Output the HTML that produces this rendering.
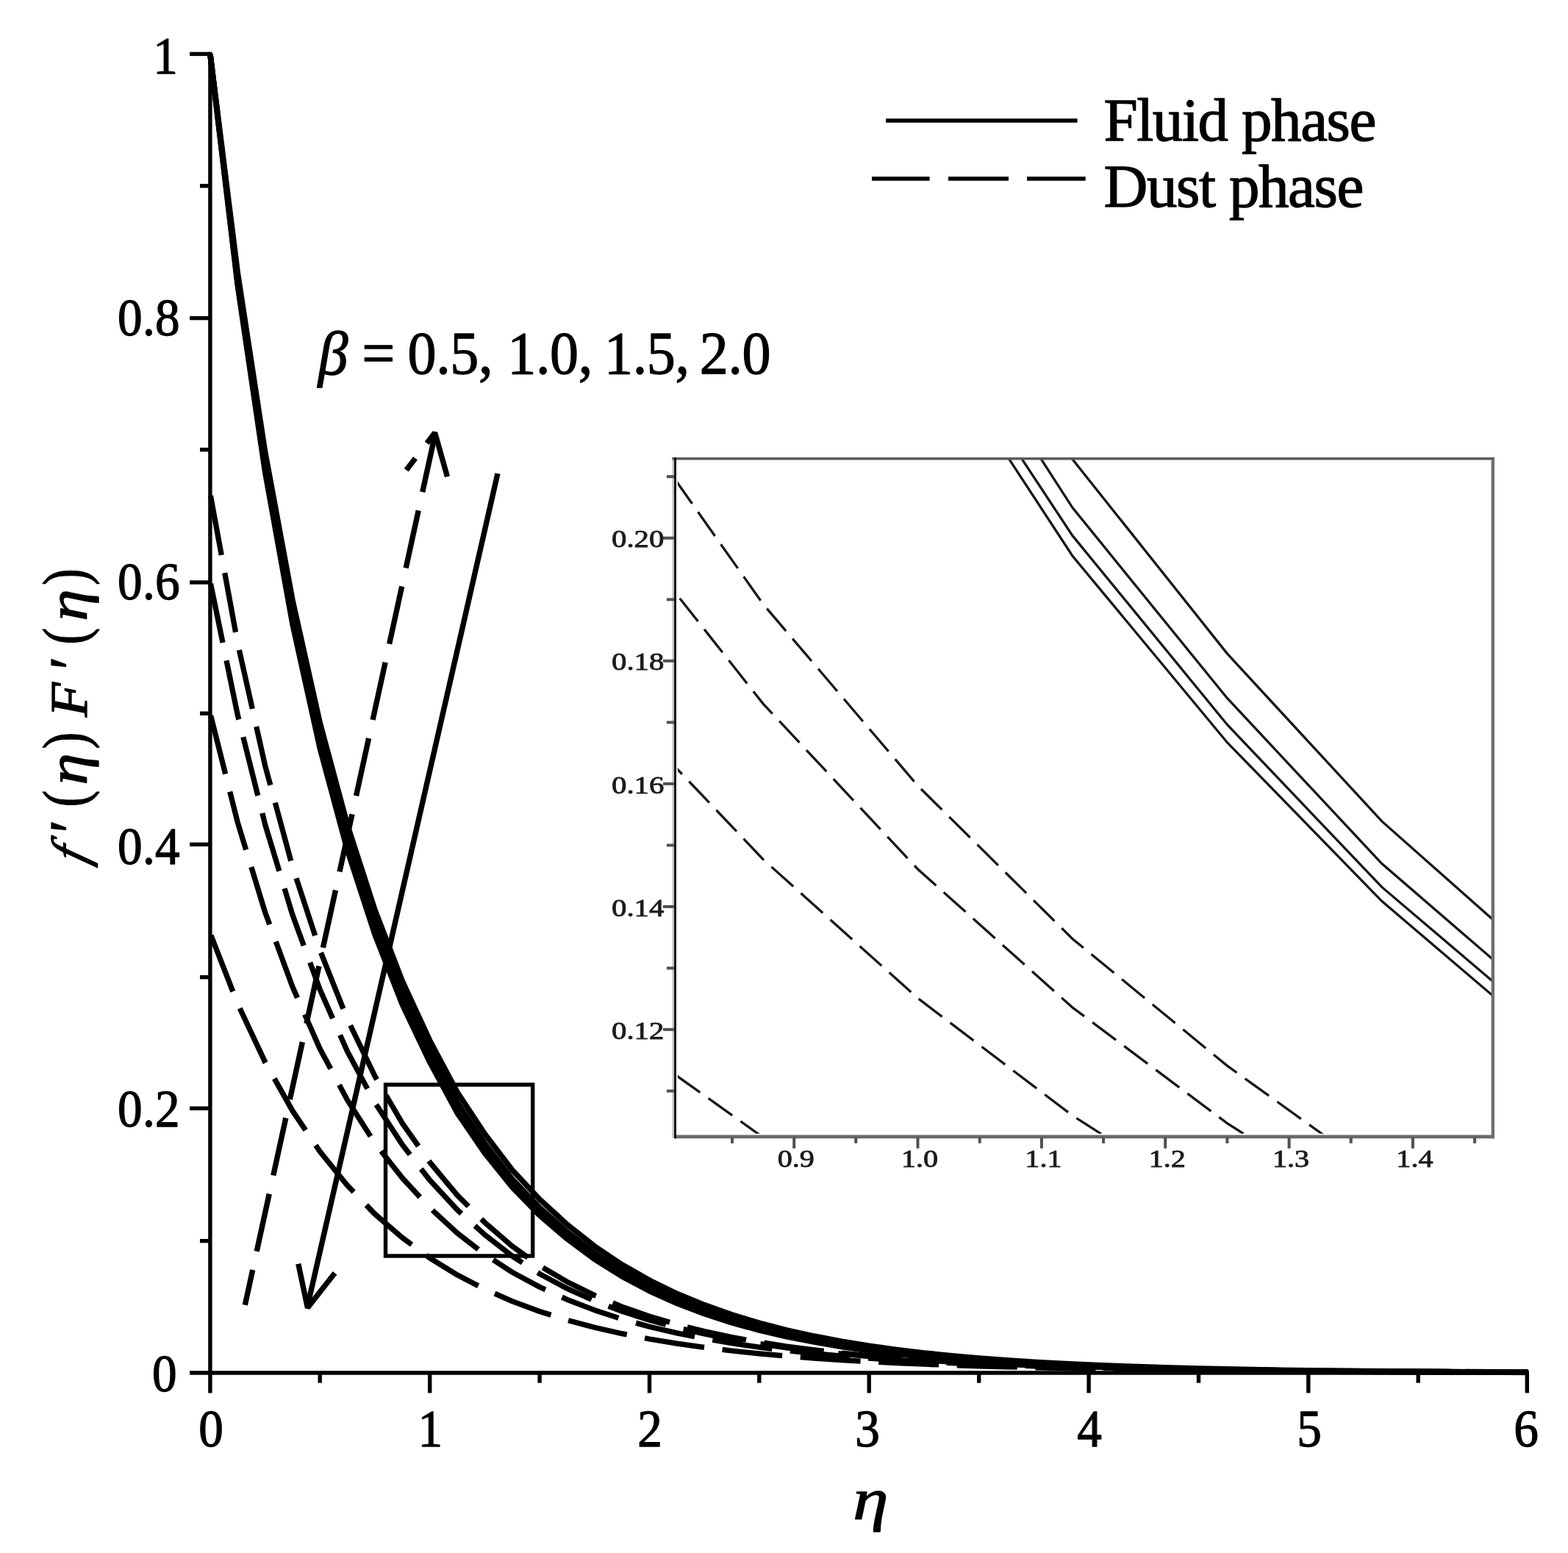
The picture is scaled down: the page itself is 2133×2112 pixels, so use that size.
<!DOCTYPE html>
<html lang="en"><head><meta charset="utf-8"><title>Velocity profiles of fluid and dust phase</title>
<style>html,body{margin:0;padding:0;background:#fff}svg{display:block}text{font-family:"Liberation Serif","DejaVu Serif",serif;fill:#000}</style>
</head><body>
<svg xmlns="http://www.w3.org/2000/svg" width="2133" height="2112" viewBox="0 0 2133 2112">
<rect width="2133" height="2112" fill="#fff"/>
<g fill="none" stroke="#000" stroke-width="7.6" stroke-linejoin="round">
<path d="M285.9,73.4 L323.2,387.7 L360.6,641.8 L397.9,848.4 L435.2,1017.4 L472.6,1156.3 L510.0,1271.0 L547.3,1366.1 L584.7,1444.5 L622.0,1513.5 L659.4,1568.0 L696.7,1614.3 L734.1,1652.8 L771.4,1684.8 L808.8,1712.5 L846.1,1735.9 L883.5,1755.7 L920.8,1772.5 L958.2,1786.7 L995.5,1798.8 L1032.8,1809.0 L1070.2,1817.7 L1107.6,1825.1 L1144.9,1831.4 L1182.2,1836.7 L1219.6,1841.3 L1257.0,1845.1 L1294.3,1848.4 L1331.7,1851.2 L1369.0,1853.6 L1406.3,1855.6 L1443.7,1857.3 L1481.1,1858.8 L1518.4,1860.0 L1555.8,1861.1 L1593.1,1861.9 L1630.5,1862.7 L1667.8,1863.4 L1705.2,1863.9 L1742.5,1864.4 L1779.8,1864.8 L1817.2,1865.1 L1854.6,1865.4 L1891.9,1865.6 L1929.2,1865.8 L1966.6,1866.0 L2004.0,1866.2 L2041.3,1866.3 L2078.7,1866.4"/>
<path d="M285.9,73.4 L323.2,384.3 L360.6,636.4 L397.9,842.0 L435.2,1010.6 L472.6,1149.5 L510.0,1264.5 L547.3,1359.9 L584.7,1439.1 L622.0,1507.6 L659.4,1562.8 L696.7,1610.2 L734.1,1648.5 L771.4,1681.0 L808.8,1709.1 L846.1,1732.8 L883.5,1753.0 L920.8,1770.0 L958.2,1784.5 L995.5,1796.8 L1032.8,1807.2 L1070.2,1816.1 L1107.6,1823.6 L1144.9,1830.1 L1182.2,1835.5 L1219.6,1840.2 L1257.0,1844.2 L1294.3,1847.6 L1331.7,1850.4 L1369.0,1852.9 L1406.3,1855.0 L1443.7,1856.8 L1481.1,1858.3 L1518.4,1859.6 L1555.8,1860.7 L1593.1,1861.6 L1630.5,1862.4 L1667.8,1863.1 L1705.2,1863.7 L1742.5,1864.2 L1779.8,1864.6 L1817.2,1865.0 L1854.6,1865.3 L1891.9,1865.5 L1929.2,1865.7 L1966.6,1865.9 L2004.0,1866.1 L2041.3,1866.2 L2078.7,1866.3"/>
<path d="M285.9,73.4 L323.2,379.1 L360.6,628.2 L397.9,832.3 L435.2,1000.4 L472.6,1139.3 L510.0,1254.5 L547.3,1350.5 L584.7,1429.3 L622.0,1499.4 L659.4,1555.0 L696.7,1603.4 L734.1,1642.3 L771.4,1675.3 L808.8,1703.9 L846.1,1728.1 L883.5,1748.7 L920.8,1766.1 L958.2,1780.9 L995.5,1793.6 L1032.8,1804.3 L1070.2,1813.5 L1107.6,1821.3 L1144.9,1828.0 L1182.2,1833.7 L1219.6,1838.5 L1257.0,1842.7 L1294.3,1846.2 L1331.7,1849.2 L1369.0,1851.8 L1406.3,1854.0 L1443.7,1855.9 L1481.1,1857.5 L1518.4,1858.9 L1555.8,1860.1 L1593.1,1861.1 L1630.5,1861.9 L1667.8,1862.7 L1705.2,1863.3 L1742.5,1863.8 L1779.8,1864.3 L1817.2,1864.7 L1854.6,1865.0 L1891.9,1865.3 L1929.2,1865.6 L1966.6,1865.8 L2004.0,1866.0 L2041.3,1866.1 L2078.7,1866.2"/>
<path d="M285.9,73.4 L323.2,370.3 L360.6,614.5 L397.9,816.0 L435.2,983.0 L472.6,1121.8 L510.0,1237.6 L547.3,1334.4 L584.7,1415.2 L622.0,1485.3 L659.4,1542.0 L696.7,1591.0 L734.1,1631.0 L771.4,1665.3 L808.8,1694.8 L846.1,1719.8 L883.5,1741.1 L920.8,1759.3 L958.2,1774.7 L995.5,1787.9 L1032.8,1799.2 L1070.2,1808.9 L1107.6,1817.1 L1144.9,1824.2 L1182.2,1830.3 L1219.6,1835.4 L1257.0,1839.9 L1294.3,1843.7 L1331.7,1847.0 L1369.0,1849.8 L1406.3,1852.2 L1443.7,1854.3 L1481.1,1856.1 L1518.4,1857.6 L1555.8,1858.9 L1593.1,1860.1 L1630.5,1861.0 L1667.8,1861.9 L1705.2,1862.6 L1742.5,1863.2 L1779.8,1863.7 L1817.2,1864.2 L1854.6,1864.6 L1891.9,1864.9 L1929.2,1865.2 L1966.6,1865.5 L2004.0,1865.7 L2041.3,1865.9 L2078.7,1866.0"/>
</g>
<g fill="none" stroke="#000" stroke-width="7.3" stroke-dasharray="82 24.7" stroke-dashoffset="-3" stroke-linejoin="round">
<path d="M285.9,671.2 L323.2,874.2 L360.6,1041.1 L397.9,1178.7 L435.2,1292.2 L472.6,1386.1 L510.0,1463.6 L547.3,1527.6 L584.7,1580.6 L622.0,1625.3 L659.4,1662.4 L696.7,1694.8 L734.1,1721.3 L771.4,1743.2 L808.8,1761.6 L846.1,1777.1 L883.5,1790.2 L920.8,1801.2 L958.2,1810.6 L995.5,1818.5 L1032.8,1825.2 L1070.2,1831.0 L1107.6,1835.8 L1144.9,1840.0 L1182.2,1843.6 L1219.6,1846.6 L1257.0,1849.3 L1294.3,1851.5 L1331.7,1853.4 L1369.0,1855.1 L1406.3,1856.6 L1443.7,1857.8 L1481.1,1858.9 L1518.4,1859.9 L1555.8,1860.7 L1593.1,1861.4 L1630.5,1862.1 L1667.8,1862.7 L1705.2,1863.2 L1742.5,1863.6 L1779.8,1864.0 L1817.2,1864.4 L1854.6,1864.7 L1891.9,1865.0 L1929.2,1865.2 L1966.6,1865.4 L2004.0,1865.6 L2041.3,1865.8 L2078.7,1865.9"/>
<path d="M285.9,790.8 L323.2,972.0 L360.6,1121.1 L397.9,1244.1 L435.2,1345.8 L472.6,1430.1 L510.0,1499.5 L547.3,1556.7 L584.7,1605.0 L622.0,1645.3 L659.4,1679.1 L696.7,1708.1 L734.1,1732.4 L771.4,1752.3 L808.8,1769.1 L846.1,1783.3 L883.5,1795.2 L920.8,1805.4 L958.2,1814.0 L995.5,1821.3 L1032.8,1827.5 L1070.2,1832.8 L1107.6,1837.3 L1144.9,1841.2 L1182.2,1844.5 L1219.6,1847.4 L1257.0,1849.9 L1294.3,1852.0 L1331.7,1853.8 L1369.0,1855.4 L1406.3,1856.8 L1443.7,1858.0 L1481.1,1859.0 L1518.4,1859.9 L1555.8,1860.7 L1593.1,1861.4 L1630.5,1862.1 L1667.8,1862.6 L1705.2,1863.1 L1742.5,1863.6 L1779.8,1864.0 L1817.2,1864.3 L1854.6,1864.6 L1891.9,1864.9 L1929.2,1865.1 L1966.6,1865.3 L2004.0,1865.5 L2041.3,1865.7 L2078.7,1865.8"/>
<path d="M285.9,970.2 L323.2,1118.2 L360.6,1240.6 L397.9,1342.0 L435.2,1426.2 L472.6,1496.1 L510.0,1554.6 L547.3,1602.1 L584.7,1642.6 L622.0,1676.9 L659.4,1705.8 L696.7,1730.1 L734.1,1750.3 L771.4,1767.3 L808.8,1781.7 L846.1,1793.9 L883.5,1804.2 L920.8,1812.9 L958.2,1820.4 L995.5,1826.7 L1032.8,1832.1 L1070.2,1836.7 L1107.6,1840.7 L1144.9,1844.1 L1182.2,1847.0 L1219.6,1849.5 L1257.0,1851.7 L1294.3,1853.6 L1331.7,1855.2 L1369.0,1856.6 L1406.3,1857.8 L1443.7,1858.9 L1481.1,1859.8 L1518.4,1860.6 L1555.8,1861.4 L1593.1,1862.0 L1630.5,1862.6 L1667.8,1863.1 L1705.2,1863.5 L1742.5,1863.9 L1779.8,1864.3 L1817.2,1864.6 L1854.6,1864.9 L1891.9,1865.1 L1929.2,1865.3 L1966.6,1865.5 L2004.0,1865.7 L2041.3,1865.8 L2078.7,1866.0"/>
<path d="M285.9,1269.2 L323.2,1364.8 L360.6,1444.4 L397.9,1510.6 L435.2,1566.0 L472.6,1612.2 L510.0,1651.1 L547.3,1683.3 L584.7,1710.8 L622.0,1733.8 L659.4,1753.2 L696.7,1769.6 L734.1,1783.5 L771.4,1795.2 L808.8,1805.2 L846.1,1813.7 L883.5,1821.0 L920.8,1827.2 L958.2,1832.4 L995.5,1837.0 L1032.8,1840.9 L1070.2,1844.2 L1107.6,1847.1 L1144.9,1849.6 L1182.2,1851.7 L1219.6,1853.6 L1257.0,1855.2 L1294.3,1856.6 L1331.7,1857.8 L1369.0,1858.8 L1406.3,1859.8 L1443.7,1860.6 L1481.1,1861.3 L1518.4,1861.9 L1555.8,1862.5 L1593.1,1862.9 L1630.5,1863.4 L1667.8,1863.8 L1705.2,1864.1 L1742.5,1864.4 L1779.8,1864.7 L1817.2,1865.0 L1854.6,1865.2 L1891.9,1865.4 L1929.2,1865.6 L1966.6,1865.7 L2004.0,1865.9 L2041.3,1866.0 L2078.7,1866.1"/>
</g>
<g stroke="#000" stroke-width="5.4" fill="none" stroke-linecap="butt">
<path d="M285.9,70.7 V1894.4"/>
<path d="M258.1,1867.0 H2080"/>
<path d="M272.0,1687.6 H285.9"/>
<path d="M258.1,1507.3 H285.9"/>
<path d="M272.0,1328.9 H285.9"/>
<path d="M258.1,1148.4 H285.9"/>
<path d="M272.0,970.2 H285.9"/>
<path d="M258.1,792.0 H285.9"/>
<path d="M272.0,611.5 H285.9"/>
<path d="M258.1,432.6 H285.9"/>
<path d="M272.0,252.8 H285.9"/>
<path d="M258.1,73.4 H285.9"/>
<path d="M435.2,1867.0 V1880.7"/>
<path d="M584.7,1867.0 V1894.4"/>
<path d="M734.1,1867.0 V1880.7"/>
<path d="M883.5,1867.0 V1894.4"/>
<path d="M1032.8,1867.0 V1880.7"/>
<path d="M1182.2,1867.0 V1894.4"/>
<path d="M1331.7,1867.0 V1880.7"/>
<path d="M1481.1,1867.0 V1894.4"/>
<path d="M1630.5,1867.0 V1880.7"/>
<path d="M1779.8,1867.0 V1894.4"/>
<path d="M1929.2,1867.0 V1880.7"/>
<path d="M2077.3,1867.0 V1894.4"/>
</g>
<rect x="524.5" y="1475.1" width="200.2" height="232.9" fill="none" stroke="#000" stroke-width="5.4"/>
<g fill="none" stroke="#000" stroke-width="7.4" stroke-linejoin="bevel">
<path d="M677,644 L419.2,1772.5"/>
<path d="M405.8,1718.8 L418.4,1778.5 L455.5,1731.3"/>
<g stroke-dasharray="80 25.7">
<path d="M591.8,591 L333.3,1774.7"/>
<path d="M608.5,648.3 L591.6,588.6 L552.7,639.2"/>
</g></g>
<g stroke="#000" stroke-width="5.4" fill="none">
<path d="M1205,164 H1465.6"/>
<path d="M1186,243 H1264.6 M1290,243 H1372 M1397,243 H1476.7"/>
</g>
<g stroke="#000" stroke-width="1.3" stroke-linejoin="round">
<text transform="translate(1501.4,191.3)" font-size="83" letter-spacing="-1.41">Fluid phase</text>
<text transform="translate(1501.4,281.0)" font-size="83" letter-spacing="-1.41">Dust phase</text>
<text transform="translate(432.7,508.5) scale(0.96,1)" font-size="85" font-style="italic">β</text>
<text transform="translate(492.3,508.5) scale(0.94,1)" font-size="85">=</text>
<text transform="translate(554.6,508.3) scale(0.94,1)" font-size="83" letter-spacing="-0.4">0.5,</text>
<text transform="translate(690.3,508.3) scale(0.94,1)" font-size="83" letter-spacing="-0.4">1.0,</text>
<text transform="translate(822.0,508.3) scale(0.94,1)" font-size="83" letter-spacing="-0.4">1.5,</text>
<text transform="translate(951.8,508.3) scale(0.94,1)" font-size="83" letter-spacing="-0.4">2.0</text>
<text transform="translate(208.3,100.4) scale(0.94,1)" font-size="71.5">1</text>
<text transform="translate(160.0,455.5) scale(0.94,1)" font-size="71.5" letter-spacing="0.3">0.8</text>
<text transform="translate(160.0,815.0) scale(0.94,1)" font-size="71.5" letter-spacing="0.3">0.6</text>
<text transform="translate(160.0,1174.6) scale(0.94,1)" font-size="71.5" letter-spacing="0.3">0.4</text>
<text transform="translate(160.0,1532.0) scale(0.94,1)" font-size="71.5" letter-spacing="0.3">0.2</text>
<text transform="translate(207.0,1892.4) scale(0.94,1)" font-size="71.5">0</text>
<text transform="translate(287.0,1966.5) scale(0.94,1)" font-size="71.5" text-anchor="middle">0</text>
<text transform="translate(585.2,1966.5) scale(0.94,1)" font-size="71.5" text-anchor="middle">1</text>
<text transform="translate(884.0,1966.5) scale(0.94,1)" font-size="71.5" text-anchor="middle">2</text>
<text transform="translate(1180.1,1966.5) scale(0.94,1)" font-size="71.5" text-anchor="middle">3</text>
<text transform="translate(1482.0,1966.5) scale(0.94,1)" font-size="71.5" text-anchor="middle">4</text>
<text transform="translate(1781.0,1966.5) scale(0.94,1)" font-size="71.5" text-anchor="middle">5</text>
<text transform="translate(2076.0,1966.5) scale(0.94,1)" font-size="71.5" text-anchor="middle">6</text>
<text transform="translate(1160.2,2066.0) scale(1.2,1)" font-size="81" font-style="italic">η</text>
<g transform="translate(118,1182) rotate(-90)">
<text transform="translate(5.5,0.0) skewX(-16)" font-size="68.5" font-style="italic">f</text>
<text transform="translate(49.5,6.0)" font-size="82">′</text>
<text transform="translate(84.5,-1.5) scale(0.8,1)" font-size="85">(</text>
<text transform="translate(114.5,0.0) scale(1.14,1)" font-size="76" font-style="italic">η</text>
<text transform="translate(163.5,-1.5) scale(0.8,1)" font-size="85">)</text>
<text transform="translate(207.0,0.0) scale(1.08,1)" font-size="71" font-style="italic">F</text>
<text transform="translate(271.5,6.0)" font-size="82">′</text>
<text transform="translate(305.5,-1.5) scale(0.8,1)" font-size="85">(</text>
<text transform="translate(337.5,0.0) scale(1.14,1)" font-size="76" font-style="italic">η</text>
<text transform="translate(386.0,-1.5) scale(0.8,1)" font-size="85">)</text>
</g>
</g>
<g id="inset">
<clipPath id="ic"><rect x="921.8" y="623.8" width="1109.0" height="918.0"/></clipPath>
<g clip-path="url(#ic)" fill="none" stroke="#181818" stroke-width="3.3">
<path d="M827.6,-373.6 L1038.1,69.4 L1248.5,434.5 L1458.9,756.0 L1669.4,1009.7 L1879.8,1225.6 L2090.2,1404.7"/>
<path d="M827.6,-404.1 L1038.1,40.5 L1248.5,409.6 L1458.9,728.4 L1669.4,985.5 L1879.8,1206.4 L2090.2,1385.1"/>
<path d="M827.6,-450.4 L1038.1,-3.4 L1248.5,364.0 L1458.9,690.4 L1669.4,949.5 L1879.8,1174.6 L2090.2,1355.9"/>
<path d="M827.6,-529.3 L1038.1,-78.5 L1248.5,298.3 L1458.9,624.5 L1669.4,888.9 L1879.8,1116.9 L2090.2,1303.2"/>
<path stroke-dasharray="40.0 13.8" stroke-dashoffset="3.9" d="M827.6,523.7 L1038.1,821.6 L1248.5,1068.6 L1458.9,1276.7 L1669.4,1449.4 L1879.8,1600.6 L2090.2,1724.1"/>
<path stroke-dasharray="40.0 13.8" stroke-dashoffset="4.8" d="M827.6,690.8 L1038.1,957.1 L1248.5,1182.0 L1458.9,1370.1 L1669.4,1527.6 L1879.8,1662.4 L2090.2,1775.8"/>
<path stroke-dasharray="40.0 13.8" stroke-dashoffset="2.1" d="M827.6,947.3 L1038.1,1168.7 L1248.5,1357.5 L1458.9,1517.1 L1669.4,1651.6 L1879.8,1765.2 L2090.2,1859.1"/>
<path stroke-dasharray="40.0 13.8" stroke-dashoffset="48.2" d="M827.6,1396.8 L1038.1,1546.8 L1248.5,1675.0 L1458.9,1782.2 L1669.4,1872.6 L1879.8,1948.9 L2090.2,2013.6"/>
</g>
<g fill="none" stroke-linecap="butt">
<path d="M915.8,621.8 V1547.8" stroke="#c4c4c4" stroke-width="2.8"/>
<path d="M914.4,623.8 H2033.0" stroke="#5a5a5a" stroke-width="3.6"/>
<path d="M2030.8,623.8 V1548.2" stroke="#6e6e6e" stroke-width="4.4"/>
<path d="M916.9,1545.8 H2033.0" stroke="#6a6a6a" stroke-width="4.8"/>
<path d="M918.5,622.0 V1548.2" stroke="#141414" stroke-width="3"/>
</g>
<g stroke="#505050" stroke-width="4" fill="none">
<path d="M906.9,1483.7 H916.9"/>
<path d="M901.9,1400.1 H916.9"/>
<path d="M906.9,1316.6 H916.9"/>
<path d="M901.9,1233.0 H916.9"/>
<path d="M906.9,1149.5 H916.9"/>
<path d="M901.9,1065.9 H916.9"/>
<path d="M906.9,982.4 H916.9"/>
<path d="M901.9,898.8 H916.9"/>
<path d="M906.9,815.3 H916.9"/>
<path d="M901.9,731.7 H916.9"/>
<path d="M906.9,648.2 H916.9"/>
<path d="M996.0,1546.8 V1554.8"/>
<path d="M1080.2,1546.8 V1561.8"/>
<path d="M1164.3,1546.8 V1554.8"/>
<path d="M1248.5,1546.8 V1561.8"/>
<path d="M1332.7,1546.8 V1554.8"/>
<path d="M1416.9,1546.8 V1561.8"/>
<path d="M1501.0,1546.8 V1554.8"/>
<path d="M1585.2,1546.8 V1561.8"/>
<path d="M1669.4,1546.8 V1554.8"/>
<path d="M1753.6,1546.8 V1561.8"/>
<path d="M1837.7,1546.8 V1554.8"/>
<path d="M1921.9,1546.8 V1561.8"/>
<path d="M2006.1,1546.8 V1554.8"/>
</g>
<g stroke="#222" stroke-width="0.9" stroke-linejoin="round">
<text transform="translate(903.4,744.3) scale(1.2,1)" font-size="34" text-anchor="end" style="fill:#1a1a1a">0.20</text>
<text transform="translate(903.4,911.4) scale(1.2,1)" font-size="34" text-anchor="end" style="fill:#1a1a1a">0.18</text>
<text transform="translate(903.4,1078.5) scale(1.2,1)" font-size="34" text-anchor="end" style="fill:#1a1a1a">0.16</text>
<text transform="translate(903.4,1245.6) scale(1.2,1)" font-size="34" text-anchor="end" style="fill:#1a1a1a">0.14</text>
<text transform="translate(903.4,1412.7) scale(1.2,1)" font-size="34" text-anchor="end" style="fill:#1a1a1a">0.12</text>
<text transform="translate(1082.7,1586.6) scale(1.18,1)" font-size="34" text-anchor="middle" style="fill:#1a1a1a">0.9</text>
<text transform="translate(1251.0,1586.6) scale(1.18,1)" font-size="34" text-anchor="middle" style="fill:#1a1a1a">1.0</text>
<text transform="translate(1419.4,1586.6) scale(1.18,1)" font-size="34" text-anchor="middle" style="fill:#1a1a1a">1.1</text>
<text transform="translate(1587.7,1586.6) scale(1.18,1)" font-size="34" text-anchor="middle" style="fill:#1a1a1a">1.2</text>
<text transform="translate(1756.1,1586.6) scale(1.18,1)" font-size="34" text-anchor="middle" style="fill:#1a1a1a">1.3</text>
<text transform="translate(1924.4,1586.6) scale(1.18,1)" font-size="34" text-anchor="middle" style="fill:#1a1a1a">1.4</text>
</g>
</g>
</svg>
</body></html>
